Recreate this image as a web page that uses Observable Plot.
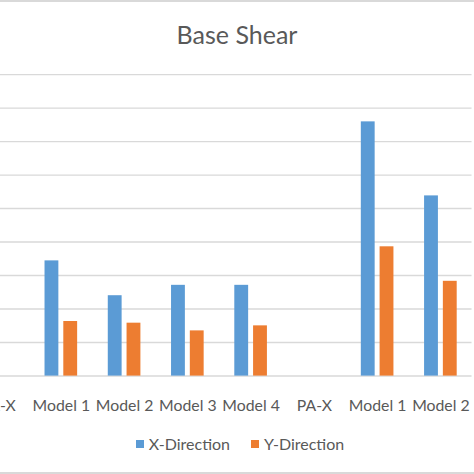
<!DOCTYPE html>
<html>
<head>
<meta charset="utf-8">
<script src="https://cdn.jsdelivr.net/npm/d3@7"></script>
<script src="https://cdn.jsdelivr.net/npm/@observablehq/plot@0.6"></script>
<style>
  html, body { margin: 0; padding: 0; background: #fff; }
  #wrap { position: relative; width: 474px; height: 474px; overflow: hidden; background: #fff; font-family: Lato, "Open Sans", sans-serif; color: #595959; }
  #chart { position: absolute; left: -40px; top: 0; }
  #title { position: absolute; top: 19px; left: 0; width: 474px; text-align: center; font-size: 25px; line-height: 30px; }
  #legend { position: absolute; top: 434px; left: 0; width: 474px; display: flex; justify-content: center; gap: 21px; font-size: 16px; line-height: 20px; padding-left: 6px; box-sizing: border-box; }
  .item { display: flex; align-items: center; gap: 5px; }
  .sw { width: 8px; height: 8px; display: inline-block; }
  .border { position: absolute; left: 0; width: 474px; height: 2px; background: #d9d9d9; }
</style>
</head>
<body>
<div id="wrap">
  <div class="border" style="top:0"></div>
  <div id="chart"></div>
  <div id="title">Base Shear</div>
  <div id="legend"></div>
  <div class="border" style="top:472px"></div>
</div>
<script>
const categories = ["PA-X", "Model 1", "Model 2", "Model 3", "Model 4", "PA-X", "Model 1", "Model 2"];
const xDirection = [null, 3.44, 2.40, 2.71, 2.71, null, 7.59, 5.38];
const yDirection = [null, 1.63, 1.58, 1.35, 1.50, null, 3.86, 2.83];
const yTicks = [0, 1, 2, 3, 4, 5, 6, 7, 8, 9];
const seriesNames = ["X-Direction", "Y-Direction"];
const seriesColors = ["#5B9BD5", "#ED7D31"];

const rows = categories.map((c, i) => ({i, label: c, xv: xDirection[i], yv: yDirection[i]}));
const xRows = rows.filter(d => d.xv != null);
const yRows = rows.filter(d => d.yv != null);

const plot = Plot.plot({
  width: 520,
  height: 474,
  marginLeft: 5.5,
  marginRight: 2.5,
  marginTop: 75,
  marginBottom: 94,
  style: {fontFamily: "Lato, 'Open Sans', sans-serif", color: "#595959", background: "transparent"},
  x: {type: "band", domain: d3.range(categories.length), padding: 0, label: null},
  y: {domain: [0, 9], label: null},
  marks: [
    Plot.gridY(yTicks, {stroke: "#d9d9d9", strokeOpacity: 1, strokeWidth: 1.5}),
    Plot.barY(xRows, {x: "i", y: "xv", fill: seriesColors[0], insetLeft: 15.5, insetRight: 34.5}),
    Plot.barY(yRows, {x: "i", y: "yv", fill: seriesColors[1], insetLeft: 34.5, insetRight: 15.5}),
    Plot.axisX({tickSize: 0, tickPadding: 24, tickFormat: i => categories[i], fontSize: 16, fill: "#595959", label: null}),
    Plot.axisY({ticks: [], label: null, tickSize: 0})
  ]
});
document.getElementById("chart").appendChild(plot);

const legend = document.getElementById("legend");
seriesNames.forEach((name, k) => {
  const item = document.createElement("div");
  item.className = "item";
  const sw = document.createElement("span");
  sw.className = "sw";
  sw.style.background = seriesColors[k];
  const t = document.createElement("span");
  t.textContent = name;
  item.appendChild(sw);
  item.appendChild(t);
  legend.appendChild(item);
});
</script>
</body>
</html>
